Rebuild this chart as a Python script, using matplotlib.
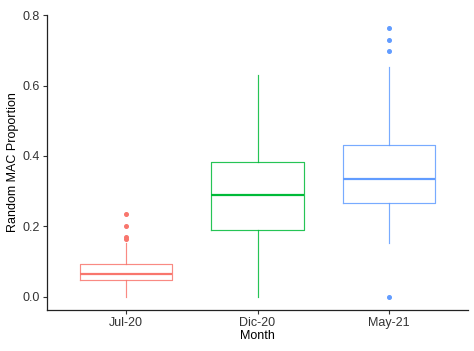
import matplotlib
matplotlib.use("Agg")
import matplotlib.pyplot as plt

plt.rcParams['font.family'] = ['Liberation Sans', 'DejaVu Sans']

# Datos (estadisticos de cada caja)
months = ["Jul-20", "Dic-20", "May-21"]
q1 = [0.048, 0.190, 0.266]
med = [0.065, 0.290, 0.335]
q3 = [0.094, 0.383, 0.431]
whislo = [0.000, 0.000, 0.152]
whishi = [0.153, 0.630, 0.652]
fliers = [
    [0.165, 0.171, 0.200, 0.236],
    [],
    [0.000, 0.698, 0.729, 0.762],
]
colors = ["#F8766D", "#00BA38", "#619CFF"]

fig = plt.figure(figsize=(4.74, 3.51), dpi=100)
ax = fig.add_axes([47 / 474, 1 - 310 / 351, 421 / 474, (310 - 14.5) / 351])

stats = []
for i, m in enumerate(months):
    stats.append(dict(label=m, q1=q1[i], med=med[i], q3=q3[i],
                      whislo=whislo[i], whishi=whishi[i], fliers=fliers[i]))

for i, st in enumerate(stats):
    c = colors[i]
    ax.bxp([st], positions=[i + 1], widths=0.7, showcaps=False,
           boxprops=dict(color=c, linewidth=0.85, alpha=0.85),
           whiskerprops=dict(color=c, linewidth=0.85, alpha=0.85),
           medianprops=dict(color=c, linewidth=1.6),
           flierprops=dict(marker='o', markerfacecolor=c, markeredgecolor=c,
                           markersize=2.6, linestyle='none'))

ax.set_xlim(0.4, 3.6)
ax.set_ylim(-0.037, 0.8015)
ax.set_yticks([0.0, 0.2, 0.4, 0.6, 0.8])
ax.set_yticklabels(["0.0", "0.2", "0.4", "0.6", "0.8"])
ax.set_xticks([1, 2, 3])
ax.set_xticklabels(months)

for s in ["top", "right"]:
    ax.spines[s].set_visible(False)
for s in ["left", "bottom"]:
    ax.spines[s].set_color("#222222")
    ax.spines[s].set_linewidth(0.9)

ax.tick_params(axis='both', direction='out', length=3, width=0.8,
               color="#333333", labelsize=9, labelcolor="#333333", pad=2)

ax.set_xlabel("Month", fontsize=9, color="black", labelpad=1)
ax.set_ylabel("Random MAC Proportion", fontsize=9, color="black", labelpad=3)

fig.savefig("out.png", dpi=100)
